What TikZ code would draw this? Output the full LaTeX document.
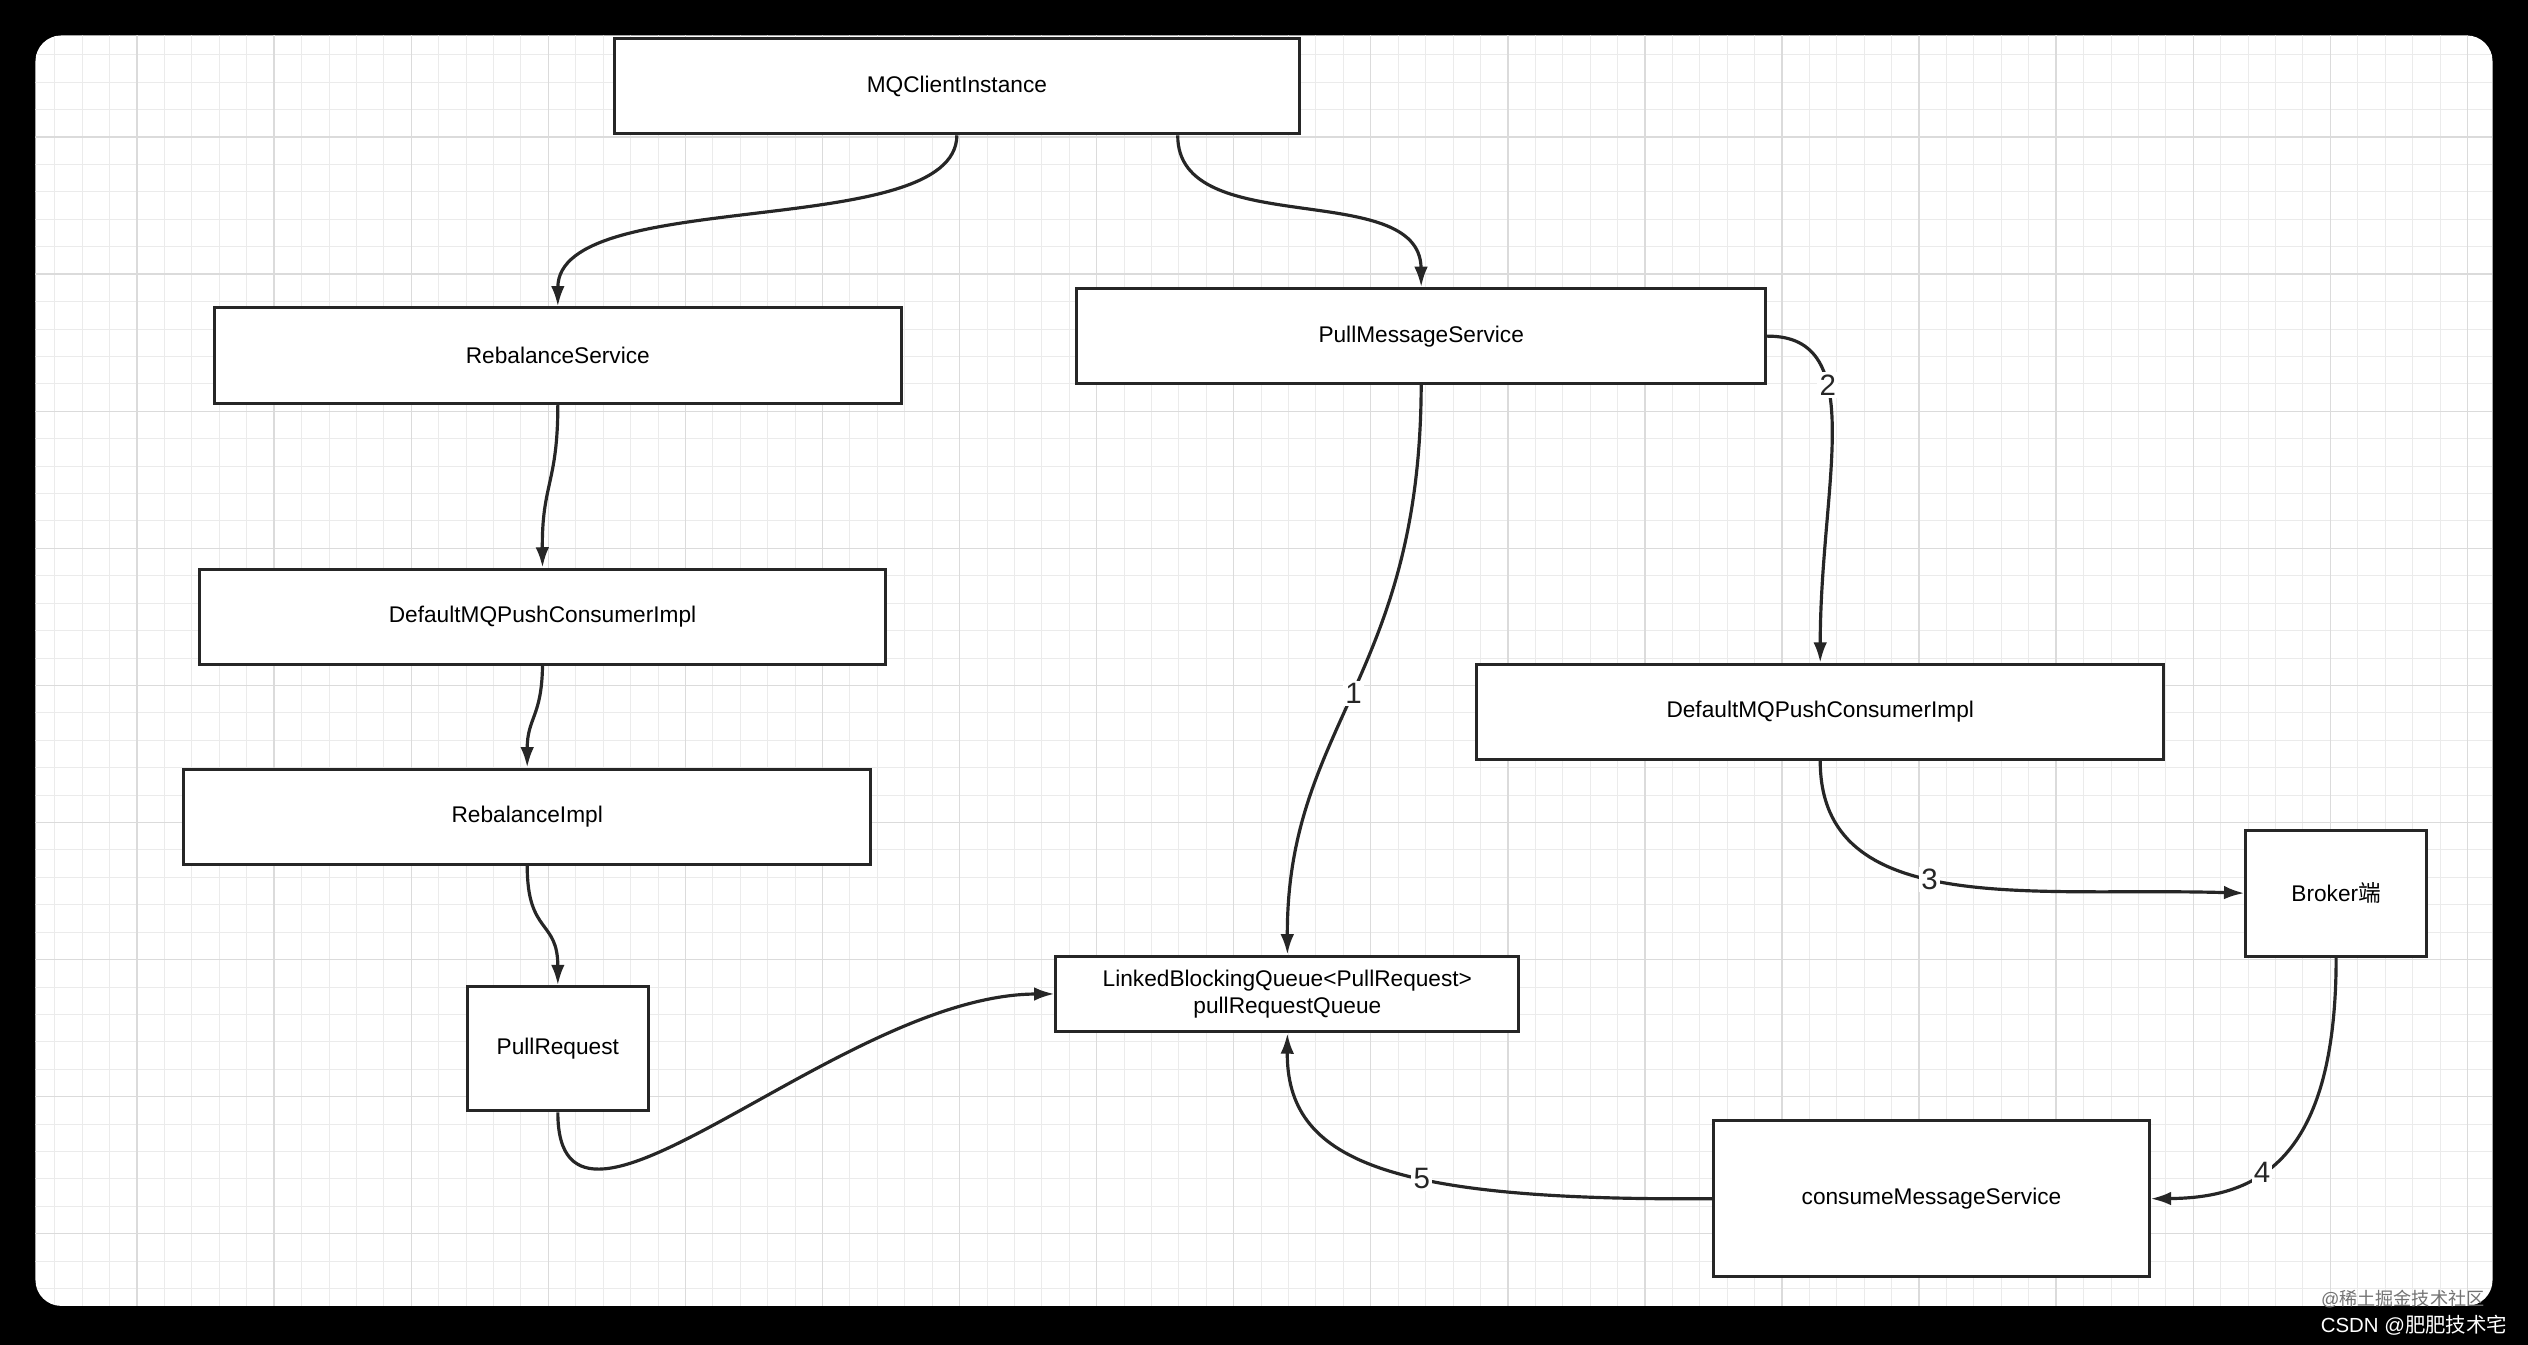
\documentclass[tikz,border=0pt]{standalone}
\usepackage{fontspec}
\setmainfont{Liberation Sans}
\newfontfamily\cjk{Noto Sans CJK SC}
\usetikzlibrary{arrows.meta, positioning, calc}
\tikzset{
  box/.style={draw=black!85,line width=1.3pt,fill=white,font=\fontsize{10}{12}\selectfont,align=center,inner sep=0pt},
  flow/.style={line width=1.4pt,black!85,-{Latex[length=9pt,width=6pt]}},
  steplabel/.style={fill=white,inner sep=1pt,font=\fontsize{13}{14}\selectfont},
}
\begin{document}
\begin{tikzpicture}[x=0.025cm,y=-0.025cm]
  \useasboundingbox (0,0) rectangle (1568,834);
  \fill[black] (0,0) rectangle (1568,834);
  \fill[white,rounded corners=0.4cm] (22,22) rectangle (1546,810);
  \begin{scope}
    \clip[rounded corners=0.4cm] (22,22) rectangle (1546,810);
    \draw[black!8,line width=0.4pt,step=0.425cm] (22,22) grid (1546,810);
    \draw[black!14,line width=0.6pt,step=2.125cm] (22,22) grid (1546,810);
  \end{scope}
  % boxes
  \node[box,minimum width=10.625cm,minimum height=1.475cm] (mq) at (593.5,53.5) {MQClientInstance};
  \node[box,minimum width=10.65cm,minimum height=1.475cm] (rs) at (346,220.5) {RebalanceService};
  \node[box,minimum width=10.675cm,minimum height=1.475cm] (pms) at (881.5,208.5) {PullMessageService};
  \node[box,minimum width=10.625cm,minimum height=1.475cm] (dl) at (336.5,382.5) {DefaultMQPushConsumerImpl};
  \node[box,minimum width=10.65cm,minimum height=1.475cm] (ri) at (327,506.5) {RebalanceImpl};
  \node[box,minimum width=2.8cm,minimum height=1.925cm] (pr) at (346,650.5) {PullRequest};
  \node[box,minimum width=7.175cm,minimum height=1.175cm] (lbq) at (798.5,616.5) {LinkedBlockingQueue<PullRequest>\\pullRequestQueue};
  \node[box,minimum width=10.65cm,minimum height=1.475cm] (dr) at (1129,441.5) {DefaultMQPushConsumerImpl};
  \node[box,minimum width=2.8cm,minimum height=1.95cm] (bk) at (1449,554) {Broker{\cjk 端}};
  \node[box,minimum width=6.75cm,minimum height=2.425cm] (cms) at (1198,743.5) {consumeMessageService};
  % connectors
  \draw[flow] ($(mq.south)+(0,0)$) .. controls (593,150) and (346,115) .. (rs.north);
  \draw[flow] ($(mq.south)+(137,0)$) .. controls (730,150) and (881,110) .. (pms.north);
  \draw[flow] (rs.south) .. controls (346,300) and (336,300) .. (dl.north);
  \draw[flow] (dl.south) .. controls (336,445) and (327,445) .. (ri.north);
  \draw[flow] (ri.south) .. controls (327,580) and (346,570) .. (pr.north);
  \draw[flow] (pr.south) .. controls (346,800) and (520,617) .. (lbq.west);
  \draw[flow] (pms.south) .. controls (881,420) and (798,450) .. node[steplabel,pos=0.5] {1} (lbq.north);
  \draw[flow] (pms.east) .. controls (1160,208) and (1129,300) .. node[steplabel,pos=0.35] {2} (dr.north);
  \draw[flow] (dr.south) .. controls (1129,570) and (1260,550) .. node[steplabel,pos=0.45] {3} (bk.west);
  \draw[flow] (bk.south) .. controls (1449,720) and (1400,743) .. node[steplabel,pos=0.6] {4} (cms.east);
  \draw[flow] (cms.west) .. controls (860,745) and (798,720) .. node[steplabel,pos=0.4] {5} (lbq.south);
  % watermark
  \node[anchor=east,text=black!55,font=\fontsize{8}{9}\selectfont] (wm) at (1546,806) {@\cjk 稀土掘金技术社区};
  \node[anchor=east,text=white,font=\fontsize{9}{10}\selectfont] (csdn) at (1560,822) {CSDN @{\cjk 肥肥技术宅}};
\end{tikzpicture}
\end{document}
